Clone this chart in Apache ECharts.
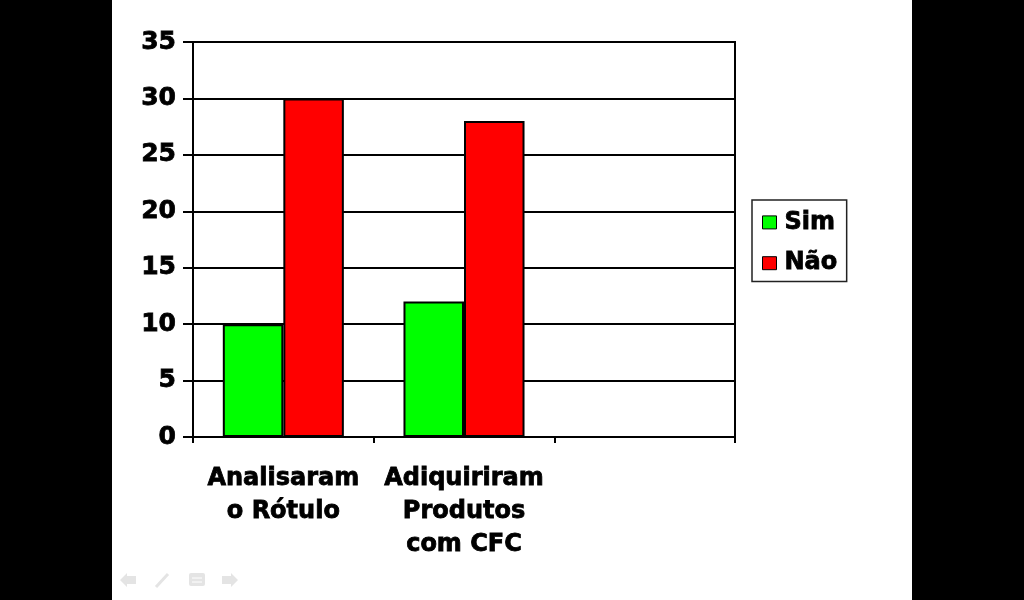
<!DOCTYPE html>
<html>
<head>
<meta charset="utf-8">
<script src="https://cdn.jsdelivr.net/npm/echarts@6/dist/echarts.min.js"></script>
<style>
  html, body { margin: 0; padding: 0; background: #000; width: 1024px; height: 600px; overflow: hidden; }
  #slide { position: absolute; left: 112px; top: 0; width: 800px; height: 600px; background: #fff; }
</style>
</head>
<body>
<div id="slide"></div>
<script>
const categories = ['Analisaram\no Rótulo', 'Adiquiriram\nProdutos\ncom CFC', ''];
const simValues = [10, 12, null];
const naoValues = [30, 28, null];
const seriesNames = ['Sim', 'Não'];
const yMin = 0, yMax = 35, yStep = 5;

const FONT = 'DejaVu Sans';
const heavy = { textBorderColor: '#000', textBorderWidth: 0.8 };
const chart = echarts.init(document.getElementById('slide'), null, { renderer: 'canvas' });
chart.setOption({
  animation: false,
  backgroundColor: '#ffffff',
  grid: {
    left: 81, right: 177, top: 42, bottom: 163,
    show: true, borderColor: '#000', borderWidth: 2, backgroundColor: 'transparent'
  },
  legend: {
    orient: 'vertical',
    left: 640, top: 200,
    data: seriesNames,
    icon: 'rect',
    itemWidth: 14, itemHeight: 13,
    itemGap: 16,
    padding: [10, 9, 6, 10],
    borderColor: '#222', borderWidth: 1.5,
    textStyle: Object.assign({ fontFamily: FONT, fontWeight: 'bold', fontSize: 24, color: '#000', lineHeight: 24, padding: [0, 0, 0, 3] }, heavy),
    itemStyle: { borderColor: '#000', borderWidth: 1 }
  },
  xAxis: {
    type: 'category',
    data: categories,
    axisLine: { show: true, lineStyle: { color: '#000', width: 2 } },
    axisTick: { show: true, inside: false, length: 6, interval: 0, lineStyle: { color: '#000', width: 2 } },
    axisLabel: Object.assign({
      interval: 0, margin: 25,
      fontFamily: FONT, fontWeight: 'bold', fontSize: 24, color: '#000', lineHeight: 33
    }, heavy),
    splitLine: { show: false }
  },
  yAxis: {
    type: 'value',
    min: yMin, max: yMax, interval: yStep,
    axisLine: { show: true, lineStyle: { color: '#000', width: 2 } },
    axisTick: { show: true, inside: false, length: 10, lineStyle: { color: '#000', width: 2 } },
    axisLabel: Object.assign({ margin: 17, fontFamily: FONT, fontWeight: 'bold', fontSize: 25, color: '#000' }, heavy),
    splitLine: { show: true, lineStyle: { color: '#000', width: 2 } }
  },
  series: [
    {
      name: seriesNames[0], type: 'bar', data: simValues,
      barGap: '0%', barCategoryGap: '33%',
      itemStyle: { color: '#00ff00', borderColor: '#000', borderWidth: 2 }
    },
    {
      name: seriesNames[1], type: 'bar', data: naoValues,
      barGap: '0%', barCategoryGap: '33%',
      itemStyle: { color: '#ff0000', borderColor: '#000', borderWidth: 2 }
    }
  ],
  graphic: [
    { type: 'polygon', shape: { points: [[8,580],[15,573],[15,576],[24,576],[24,584],[15,584],[15,587]] }, style: { fill: '#e4e4e4' }, silent: true },
    { type: 'line', shape: { x1: 44, y1: 587, x2: 56, y2: 574 }, style: { stroke: '#e4e4e4', lineWidth: 3 }, silent: true },
    { type: 'rect', shape: { x: 77, y: 573, width: 16, height: 13, r: 2 }, style: { fill: '#e4e4e4' }, silent: true },
    { type: 'line', shape: { x1: 80, y1: 578, x2: 90, y2: 578 }, style: { stroke: '#fff', lineWidth: 1 }, silent: true },
    { type: 'line', shape: { x1: 80, y1: 582, x2: 90, y2: 582 }, style: { stroke: '#fff', lineWidth: 1 }, silent: true },
    { type: 'polygon', shape: { points: [[126,580],[119,573],[119,576],[110,576],[110,584],[119,584],[119,587]] }, style: { fill: '#e4e4e4' }, silent: true }
  ]
});
</script>
</body>
</html>
